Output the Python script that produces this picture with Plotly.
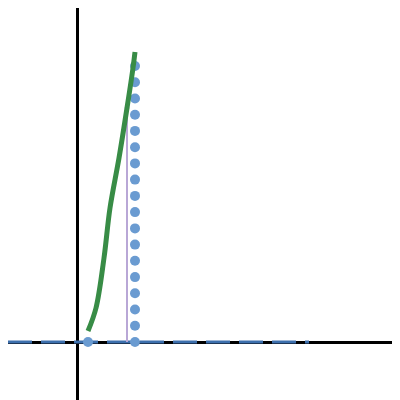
import plotly.graph_objects as go

# DATA
curve_x = [1.1, 1.9, 2.7, 3.3, 4.2, 5.0, 5.6, 5.8]
curve_y = [1.1, 3.4, 8.4, 13.4, 18.4, 23.4, 27.4, 29.0]
dots_x = [5.8] * 18
dots_y = [0, 1.62, 3.25, 4.87, 6.49, 8.12, 9.74, 11.36, 12.99, 14.61, 16.24, 17.86,
          19.48, 21.11, 22.73, 24.35, 25.98, 27.6]
dash_x = [-6.9, 23.2]
dash_y = [0, 0]
stem_x = [5.0, 5.0]
stem_y = [0, 23.4]
origin_pt_x = [1.1]
origin_pt_y = [0]

fig = go.Figure()
fig.add_trace(go.Scatter(x=dash_x, y=dash_y, mode='lines',
                         line=dict(color='#3c6fad', width=3, dash='24px,9px')))
fig.add_trace(go.Scatter(x=stem_x, y=stem_y, mode='lines+markers',
                         line=dict(color='#b9a7d6', width=2),
                         marker=dict(size=[0, 4], color='#9b86c9')))
fig.add_trace(go.Scatter(x=dots_x, y=dots_y, mode='markers',
                         marker=dict(color='#6a9bd1', size=10)))
fig.add_trace(go.Scatter(x=origin_pt_x, y=origin_pt_y, mode='markers',
                         marker=dict(color='#6a9bd1', size=10)))
fig.add_trace(go.Scatter(x=curve_x, y=curve_y, mode='lines', line_shape='spline',
                         line=dict(color='#388c46', width=5)))

fig.update_layout(width=400, height=400, autosize=False,
                  margin=dict(l=0, r=0, t=0, b=0, pad=0, autoexpand=False),
                  plot_bgcolor='white', paper_bgcolor='white', showlegend=False)
fig.update_xaxes(range=[-6.9, 33.1], showgrid=False, showticklabels=False,
                 zeroline=True, zerolinecolor='black', zerolinewidth=3)
fig.update_yaxes(range=[-6.6, 33.4], showgrid=False, showticklabels=False,
                 zeroline=True, zerolinecolor='black', zerolinewidth=3)
fig.write_html("out.html")
